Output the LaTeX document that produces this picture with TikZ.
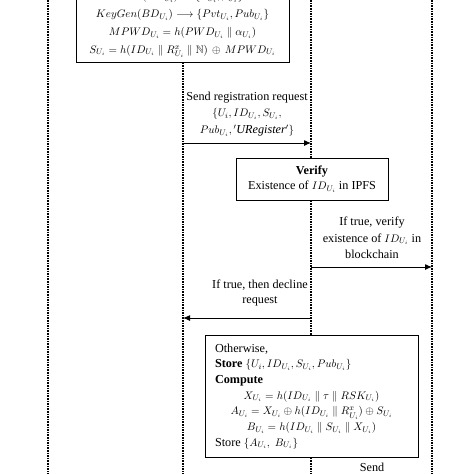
\documentclass[tikz,border=0pt]{standalone}
\usepackage{amssymb}
\usepackage{fontspec}
\setmainfont[Scale=1.13]{Liberation Serif}
\usetikzlibrary{arrows.meta}
\begin{document}
\begin{tikzpicture}[x=1pt,y=-1pt,
  life/.style={line width=2.8pt,dash pattern=on 1.6pt off 1.0pt},
  msg/.style={line width=1pt,-{Latex[length=7pt,width=6pt]}},
  box/.style={draw,line width=0.9pt,fill=white,inner sep=0pt},
  lbl/.style={align=center,font=\fontsize{10.8}{16.5}\selectfont},
]
\useasboundingbox (0,0) rectangle (474,474);
\clip (0,0) rectangle (474,474);
\fill[white] (0,0) rectangle (474,474);
% lifelines
\coordinate (l1t) at (48,-5);  \coordinate (l1b) at (48,480);
\coordinate (l2t) at (183,-5); \coordinate (l2b) at (183,480);
\coordinate (l3t) at (311,-5); \coordinate (l3b) at (311,480);
\coordinate (l4t) at (432,-5); \coordinate (l4b) at (432,480);
\draw[life] (l1t) -- (l1b);
\draw[life] (l2t) -- (l2b);
\draw[life] (l3t) -- (l3b);
\draw[life] (l4t) -- (l4b);
% top box
\node[box,minimum width=213pt,minimum height=90pt,anchor=south] (keybox) at (182.5,63) {};
\node[lbl,anchor=base] (kb0) at (182.5,-0.5) {$Gen(BD_{U_i}) \rightarrow \{\alpha_{U_i}, \beta_{U_i}\}$};
\node[lbl,anchor=base] (kb1) at (182.5,17.5) {$KeyGen\bigl(BD_{U_i}\bigr) \longrightarrow \{Pvt_{U_i}, Pub_{U_i}\}$};
\node[lbl,anchor=base] (kb2) at (182.5,35.5) {$MPWD_{U_i} = h(PWD_{U_i} \parallel \alpha_{U_i})$};
\node[lbl,anchor=base] (kb3) at (182.5,53) {$S_{U_i} = h(ID_{U_i} \parallel R^x_{U_i} \parallel \mathbb{N}) \,\oplus\, MPWD_{U_i}$};
% message 1
\coordinate (m1s) at (183,143); \coordinate (m1e) at (311,143);
\draw[msg] (m1s) -- (m1e);
\node[lbl] (m1l) at (247,114) {Send registration request\\ $\{U_i, ID_{U_i}, S_{U_i},$\\ $Pub_{U_i}, \mathit{'URegister'}\}$};
% verify box
\node[box,minimum width=152pt,minimum height=42pt,align=center,font=\fontsize{10.8}{15}\selectfont] (verify) at (312,179)
  {\textbf{Verify}\\ Existence of $ID_{U_i}$ in IPFS};
% message 2
\coordinate (m2s) at (311,267); \coordinate (m2e) at (432,267);
\draw[msg] (m2s) -- (m2e);
\node[lbl] (m2l) at (372,238) {If true, verify\\ existence of $ID_{U_i}$ in\\ blockchain};
% message 3
\coordinate (m3s) at (311,318); \coordinate (m3e) at (183,318);
\draw[msg] (m3s) -- (m3e);
\node[lbl,font=\fontsize{10.8}{14.5}\selectfont] (m3l) at (260,293) {If true, then decline\\ request};
% bottom box
\node[box,minimum width=213pt,minimum height=122pt,font=\fontsize{10.8}{15.7}\selectfont] (store) at (311.5,396)
{\begin{tabular}{@{}p{193pt}@{}}
Otherwise,\\
\textbf{Store} $\{U_i, ID_{U_i}, S_{U_i}, Pub_{U_i}\}$\\
\textbf{Compute}\\
\multicolumn{1}{@{}c@{}}{$X_{U_i} = h(ID_{U_i} \parallel \tau \parallel RSK_{U_i})$}\\
\multicolumn{1}{@{}c@{}}{$A_{U_i} = X_{U_i} \oplus h(ID_{U_i} \parallel R^x_{U_i}) \oplus S_{U_i}$}\\
\multicolumn{1}{@{}c@{}}{$B_{U_i} = h(ID_{U_i} \parallel S_{U_i} \parallel X_{U_i})$}\\
Store $\{A_{U_i},\ B_{U_i}\}$
\end{tabular}};
\node[lbl] (send) at (372,467) {Send};
\end{tikzpicture}
\end{document}
